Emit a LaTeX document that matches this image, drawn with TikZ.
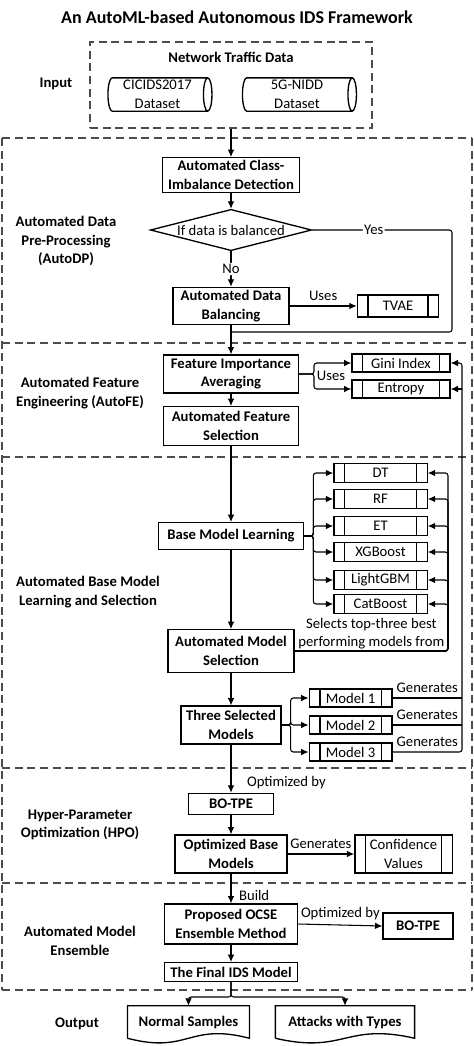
\documentclass[tikz,border=0pt]{standalone}
\usepackage{fontspec}
\setmainfont{Carlito}
\usetikzlibrary{shapes.geometric,calc,arrows.meta}
\begin{document}
\fontsize{11}{14}\selectfont
\begin{tikzpicture}[x=0.75pt, y=-0.75pt, >={Latex[length=5.5pt,width=5pt]},
% common options for the process boxes:
box/.style = {draw, line width=1pt, align=center, inner sep=0, font=\bfseries},
% common options for the boxes with side bars:
sub/.style = {draw, line width=1pt, align=center, inner sep=0,
            path picture={\draw[line width=1pt]
              ([xshift=8pt]path picture bounding box.north west) -- ([xshift=8pt]path picture bounding box.south west)
              ([xshift=-8pt]path picture bounding box.north east) -- ([xshift=-8pt]path picture bounding box.south east);}},
% common options for the data sets:
db/.style = {cylinder, draw, line width=1pt, align=center, inner sep=0, shape aspect=0.3},
% common options for the dashed frames:
stage/.style = {draw=black!70, line width=1.2pt, dash pattern=on 6pt off 3.5pt},
% common options for the stage names:
tag/.style = {align=center, font=\bfseries},
% common options for the connectors:
link/.style = {line width=0.8pt, rounded corners=2pt}]
\useasboundingbox (0,0) rectangle (474,1046);
\node[font=\bfseries\fontsize{13.5}{16}\selectfont] (title) at (237,17) {An AutoML-based Autonomous IDS Framework};
% input
\node[stage, minimum width=211.5pt, minimum height=64.5pt] (inp) at (231,85) {};
\node[tag] (netdata) at (231,57) {Network Traffic Data};
\node[db, minimum height=78pt, minimum width=25pt] (cic) at (157.5,94.5) {CICIDS2017\\Dataset};
\node[db, minimum height=85.5pt, minimum width=25pt] (nidd) at (297,94.5) {5G-NIDD\\Dataset};
% stage frames
\foreach \y in {138,343,457,768,883,990} \draw[stage] (2,\y) -- (472,\y);
\draw[stage] (2,138) -- (2,990);
\draw[stage] (472,138) -- (472,990);
% stage names
\node[tag] (inptag) at (56,84) {Input};
\node[tag] (dptag) at (66,241) {Automated Data\\Pre-Processing\\(AutoDP)};
\node[tag] (fetag) at (80,393) {Automated Feature\\Engineering (AutoFE)};
\node[tag] (bmtag) at (88,592) {Automated Base Model\\Learning and Selection};
\node[tag] (hpotag) at (80,825) {Hyper-Parameter\\Optimization (HPO)};
\node[tag] (enstag) at (80,941) {Automated Model\\Ensemble};
\node[tag] (outtag) at (77,1024) {Output};
% AutoDP
\node[box, minimum width=103pt, minimum height=26pt] (cid) at (231,175) {Automated Class-\\Imbalance Detection};
\node[draw, line width=1pt, diamond, aspect=3.9, inner sep=0, minimum width=121pt, minimum height=31pt] (bal) at (231,230) {If data is balanced};
\node[box, minimum width=87pt, minimum height=28pt] (adb) at (231,306) {Automated Data\\Balancing};
\node[sub, minimum width=61pt, minimum height=16.5pt] (tvae) at (398,306) {TVAE};
\coordinate (join) at (231,332);
% AutoFE
\node[box, minimum width=101pt, minimum height=28.5pt] (fia) at (231,374) {Feature Importance\\Averaging};
\node[box, minimum width=101pt, minimum height=29pt] (afs) at (231,426) {Automated Feature\\Selection};
\node[sub, minimum width=73.5pt, minimum height=13.5pt] (gini) at (401,363) {Gini Index};
\node[sub, minimum width=73.5pt, minimum height=13.5pt] (entropy) at (401,389) {Entropy};
% base models
\node[box, minimum width=109pt, minimum height=20pt] (bml) at (231,536) {Base Model Learning};
\node[sub, minimum width=70pt, minimum height=14pt] (dt) at (380.5,473) {DT};
\node[sub, minimum width=70pt, minimum height=14pt] (rf) at (380.5,499) {RF};
\node[sub, minimum width=70pt, minimum height=14pt] (et) at (380.5,526) {ET};
\node[sub, minimum width=70pt, minimum height=14pt] (xgb) at (380.5,552) {XGBoost};
\node[sub, minimum width=70pt, minimum height=14pt] (lgbm) at (380.5,580) {LightGBM};
\node[sub, minimum width=70pt, minimum height=14pt] (cat) at (380.5,604) {CatBoost};
\node[box, minimum width=94.5pt, minimum height=32pt] (ams) at (231,651) {Automated Model\\Selection};
\node[box, minimum width=75pt, minimum height=28.5pt] (tsm) at (231,725) {Three Selected\\Models};
\node[sub, minimum width=62pt, minimum height=13.5pt] (mo1) at (350.5,698) {Model 1};
\node[sub, minimum width=62pt, minimum height=13.5pt] (mo2) at (350.5,725) {Model 2};
\node[sub, minimum width=62pt, minimum height=13.5pt] (mo3) at (350.5,752) {Model 3};
\coordinate (lbus) at (448,0);
\coordinate (rbus) at (462,0);
% HPO
\node[box, minimum width=64pt, minimum height=16pt] (bo1) at (231,804) {BO-TPE};
\node[box, minimum width=84pt, minimum height=28.5pt] (obm) at (231,854) {Optimized Base\\Models};
\node[sub, minimum width=73pt, minimum height=28.5pt] (conf) at (403.5,854) {Confidence\\Values};
% ensemble
\node[box, minimum width=100pt, minimum height=30pt] (ocse) at (231,924) {Proposed OCSE\\Ensemble Method};
\node[box, minimum width=52.5pt, minimum height=19.5pt] (bo2) at (418,926) {BO-TPE};
\node[box, minimum width=100pt, minimum height=14pt] (fin) at (231,972) {The Final IDS Model};
% output
\node[tag, minimum width=91pt, minimum height=24pt, inner sep=0] (nrm) at (188.5,1022) {Normal Samples};
\node[tag, minimum width=104pt, minimum height=24pt, inner sep=0] (atk) at (345,1022) {Attacks with Types};
\foreach \d in {nrm,atk}
  \draw[line width=1pt] (\d.south west) -- (\d.north west) -- (\d.north east) -- (\d.south east)
    .. controls ($(\d.south east)!0.5!(\d.south west)+(0,-16)$) and ($(\d.south east)!0.5!(\d.south west)+(0,16)$) .. (\d.south west);
% connectors
\draw[link,->] (inp.south) -- (cid.north);
\draw[link,->] (cid.south) -- (bal.north);
\draw[link,->] (bal.south) -- node[fill=white, inner sep=1pt]{No} (adb.north);
\draw[link] (bal.east) -- node[pos=0.44, fill=white, inner sep=1pt]{Yes} (452,230) |- (join);
\draw[link,->] (adb.east) -- node[above]{Uses} (tvae.west);
\draw[link,->] (adb.south) -- (fia.north);
\draw[link,->] (fia.east) -- ++(15,0) |- (gini.west);
\draw[link,->] (fia.east) -- ++(15,0) |- (entropy.west);
\node (usesfe) at (331,376) {Uses};
\draw[link,->] (fia.south) -- (afs.north);
\draw[link,->] (afs.south) -- (bml.north);
\foreach \m in {dt,rf,et,xgb,lgbm,cat} {
  \draw[link,->] (bml.east) -- ++(9,0) |- (\m.west);
  \draw[link,->] (ams.east) -- (ams.east -| lbus) |- (\m.east);
}
\path (ams.east) -- node[above=0pt, inner sep=1pt, align=center]{Selects top-three best\\performing models from} (ams.east -| lbus);
\draw[link,->] (bml.south) -- (ams.north);
\draw[link,->] (ams.south) -- (tsm.north);
\foreach \m in {mo1,mo2,mo3}
  \draw[link,->] (tsm.east) -- ++(9,0) |- (\m.west);
\draw[link] (mo1.east) -- node[above]{Generates} (mo1.east -| rbus);
\draw[link] (mo2.east) -- node[above]{Generates} (mo2.east -| rbus);
\draw[link,->] (mo3.east) -- node[above]{Generates} (mo3.east -| rbus) -- (gini.east -| rbus) -- (gini.east);
\draw[link,->] (entropy.east -| rbus) -- (entropy.east);
\draw[link,->] (tsm.south) -- node[pos=0.8, right=8pt]{Optimized by} (bo1.north);
\draw[link,->] (bo1.south) -- (obm.north);
\draw[link,->] (obm.east) -- node[above]{Generates} (conf.west);
\draw[link,->] (obm.south) -- node[pos=0.73, right=2pt]{Build} (ocse.north);
\draw[link,->] (ocse.east) -- node[above]{Optimized by} (bo2.west);
\draw[link,->] (ocse.south) -- (fin.north);
\draw[link,->] (fin.south) -- ++(0,15) -| (nrm.north);
\draw[link,->] (fin.south) -- ++(0,15) -| (atk.north);
\end{tikzpicture}
\end{document}
